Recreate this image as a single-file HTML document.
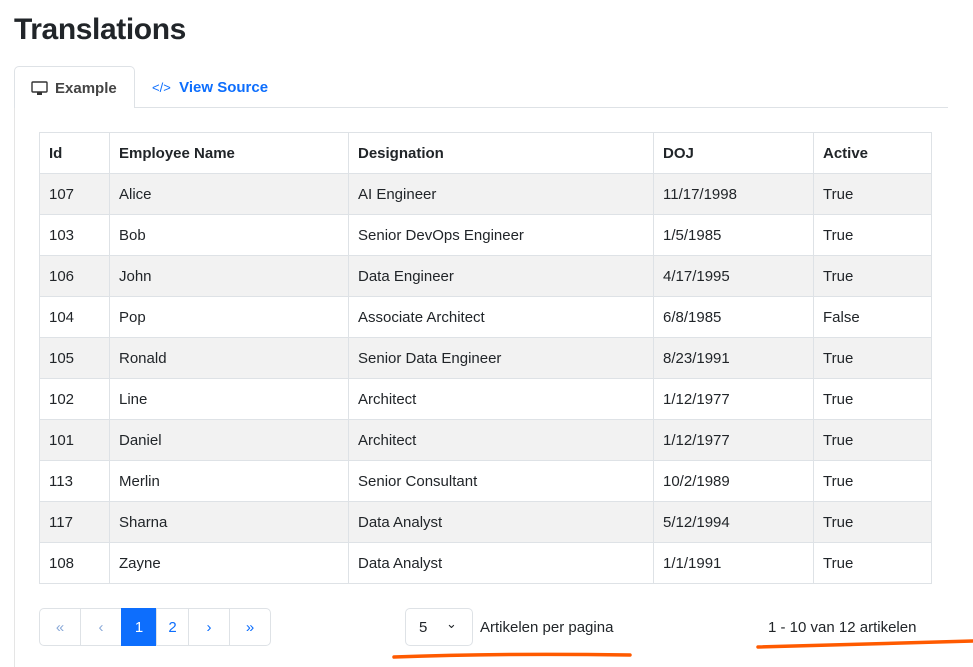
<!DOCTYPE html>
<html><head><meta charset="utf-8"><style>
body{margin:0;width:973px;height:667px;background:#fff;font-family:"Liberation Sans",sans-serif;color:#212529;position:relative;overflow:hidden}
.abs{position:absolute}
h1{position:absolute;left:14px;top:13px;margin:0;font-size:30px;font-weight:bold;letter-spacing:-0.4px}
table{position:absolute;left:39px;top:132px;border-collapse:collapse;font-size:15px;table-layout:fixed;width:892px}
tr{height:41px}
td,th{border:1px solid #dee2e6;padding:0 0 0 9px;text-align:left;box-sizing:border-box}
th{font-weight:bold}
tr.s td{background:#f2f2f2}
.pg{position:absolute;top:608px;height:38px;box-sizing:border-box;border:1px solid #dee2e6;display:flex;align-items:center;justify-content:center;color:#0d6efd;font-size:15px}
</style></head><body>
<h1>Translations</h1>
<div class="abs" style="left:14px;top:66px;width:121px;height:42px;border:1px solid #dee2e6;border-bottom:none;border-radius:5px 5px 0 0;box-sizing:border-box;background:#fff;z-index:2;font-weight:bold;font-size:15px;color:#444">
<svg class="abs" style="left:16px;top:14px" width="17" height="15" viewBox="0 0 17 15"><rect x="1" y="1" width="15" height="10" rx="1" fill="none" stroke="#333" stroke-width="1.4"/><rect x="6" y="11" width="5" height="3" fill="#333"/></svg>
<span class="abs" style="left:40px;top:13px">Example</span></div>
<div class="abs" style="left:152px;top:79px;font-weight:bold;font-size:15px;color:#0d6efd"><span style="font-weight:normal;font-size:13px">&lt;/&gt;</span>&nbsp; View Source</div>
<div class="abs" style="left:14px;top:107px;width:934px;height:1px;background:#dee2e6"></div>
<div class="abs" style="left:14px;top:107px;width:1px;height:560px;background:#e5e5e5"></div>
<table>
<colgroup><col style="width:70px"><col style="width:239px"><col style="width:305px"><col style="width:160px"><col style="width:118px"></colgroup>
<tr><th>Id</th><th>Employee Name</th><th>Designation</th><th>DOJ</th><th>Active</th></tr>
<tr class="s"><td>107</td><td>Alice</td><td>AI Engineer</td><td>11/17/1998</td><td>True</td></tr>
<tr><td>103</td><td>Bob</td><td>Senior DevOps Engineer</td><td>1/5/1985</td><td>True</td></tr>
<tr class="s"><td>106</td><td>John</td><td>Data Engineer</td><td>4/17/1995</td><td>True</td></tr>
<tr><td>104</td><td>Pop</td><td>Associate Architect</td><td>6/8/1985</td><td>False</td></tr>
<tr class="s"><td>105</td><td>Ronald</td><td>Senior Data Engineer</td><td>8/23/1991</td><td>True</td></tr>
<tr><td>102</td><td>Line</td><td>Architect</td><td>1/12/1977</td><td>True</td></tr>
<tr class="s"><td>101</td><td>Daniel</td><td>Architect</td><td>1/12/1977</td><td>True</td></tr>
<tr><td>113</td><td>Merlin</td><td>Senior Consultant</td><td>10/2/1989</td><td>True</td></tr>
<tr class="s"><td>117</td><td>Sharna</td><td>Data Analyst</td><td>5/12/1994</td><td>True</td></tr>
<tr><td>108</td><td>Zayne</td><td>Data Analyst</td><td>1/1/1991</td><td>True</td></tr>
</table>
<div class="pg" style="left:39px;width:42px;border-radius:5px 0 0 5px;color:#8aa9d8">«</div>
<div class="pg" style="left:80px;width:42px;color:#8aa9d8">‹</div>
<div class="pg" style="left:121px;width:36px;background:#0d6efd;border-color:#0d6efd;color:#fff">1</div>
<div class="pg" style="left:156px;width:33px">2</div>
<div class="pg" style="left:188px;width:42px">›</div>
<div class="pg" style="left:229px;width:42px;border-radius:0 5px 5px 0">»</div>
<div class="pg" style="left:405px;width:68px;border-radius:5px;color:#212529;justify-content:flex-start;padding-left:13px">5<span style="position:absolute;left:40px;top:7px;font-size:13px">⌄</span></div>
<div class="abs" style="left:480px;top:619px;font-size:15px">Artikelen per pagina</div>
<div class="abs" style="left:768px;top:619px;font-size:15px">1 - 10 van 12 artikelen</div>
<svg class="abs" style="left:0;top:0" width="973" height="667"><path d="M394 657 Q500 653 630 655" stroke="#ff5a00" stroke-width="3.5" fill="none" stroke-linecap="round"/><path d="M758 647 Q860 644 973 641" stroke="#ff5a00" stroke-width="3.5" fill="none" stroke-linecap="round"/></svg>
</body></html>
